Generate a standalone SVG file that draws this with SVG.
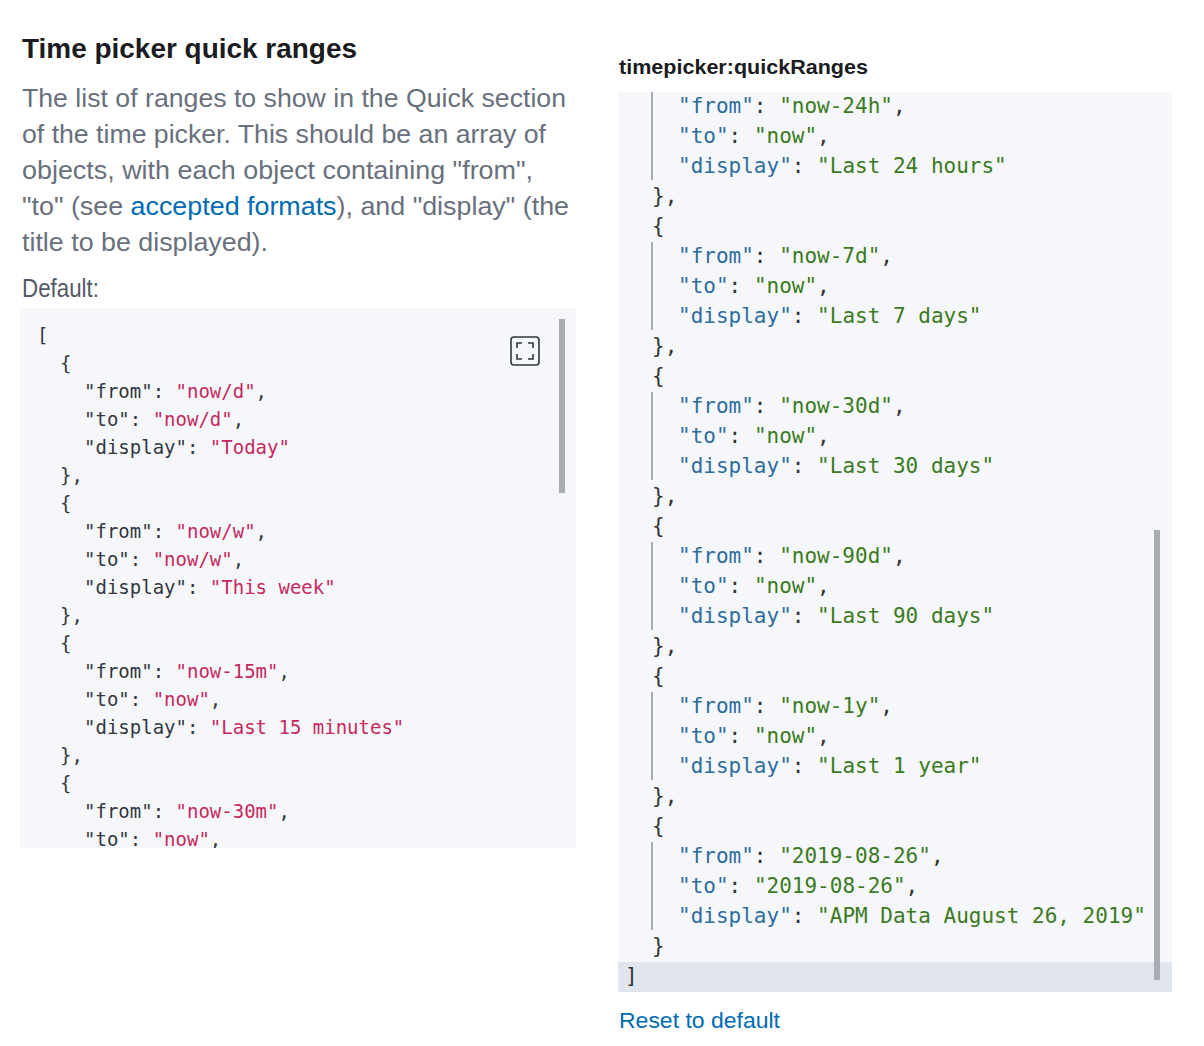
<svg xmlns="http://www.w3.org/2000/svg" width="1204" height="1046" viewBox="0 0 1204 1046">
<style>
.h{font-family:"Liberation Sans",Arial,sans-serif;fill:#1a1c21}
.p{font-family:"Liberation Sans",Arial,sans-serif;font-size:25px;fill:#69707d}
.lc{font-family:"DejaVu Sans Mono","Liberation Mono",monospace;font-size:19px;fill:#343741}
.ls{fill:#c6285e}
.rc{font-family:"DejaVu Sans Mono","Liberation Mono",monospace;font-size:21px;fill:#333}
.rk{fill:#2f6c9e}
.rs{fill:#3b7a1e}
.a{fill:#006bb4}
.g{stroke:#a9acb3;stroke-width:2}
</style>
<defs><clipPath id="lc"><rect x="20" y="308" width="556" height="540"/></clipPath></defs>
<rect width="1204" height="1046" fill="#fff"/>
<g id="left">
<text class="h" x="22" y="58" font-size="27" font-weight="bold" textLength="335" lengthAdjust="spacingAndGlyphs">Time picker quick ranges</text>
<text class="p" x="22" y="107" textLength="544" lengthAdjust="spacingAndGlyphs">The list of ranges to show in the Quick section</text>
<text class="p" x="22" y="143" textLength="524" lengthAdjust="spacingAndGlyphs">of the time picker. This should be an array of</text>
<text class="p" x="22" y="179" textLength="511" lengthAdjust="spacingAndGlyphs">objects, with each object containing "from",</text>
<text class="p" x="22" y="215" textLength="547" lengthAdjust="spacingAndGlyphs">"to" (see <tspan class="a">accepted formats</tspan>), and "display" (the</text>
<text class="p" x="22" y="251" textLength="246" lengthAdjust="spacingAndGlyphs">title to be displayed).</text>
<text class="p" x="22" y="297" font-size="20" style="fill:#535966" textLength="77" lengthAdjust="spacingAndGlyphs">Default:</text>
<rect x="20" y="308" width="556" height="540" fill="#f5f7fa"/>
<g clip-path="url(#lc)">
<text class="lc" x="37" y="342">[</text>
<text class="lc" x="60" y="370">{</text>
<text class="lc" x="84" y="398">"from": <tspan class="ls">"now/d"</tspan>,</text>
<text class="lc" x="84" y="426">"to": <tspan class="ls">"now/d"</tspan>,</text>
<text class="lc" x="84" y="454">"display": <tspan class="ls">"Today"</tspan></text>
<text class="lc" x="60" y="482">},</text>
<text class="lc" x="60" y="510">{</text>
<text class="lc" x="84" y="538">"from": <tspan class="ls">"now/w"</tspan>,</text>
<text class="lc" x="84" y="566">"to": <tspan class="ls">"now/w"</tspan>,</text>
<text class="lc" x="84" y="594">"display": <tspan class="ls">"This week"</tspan></text>
<text class="lc" x="60" y="622">},</text>
<text class="lc" x="60" y="650">{</text>
<text class="lc" x="84" y="678">"from": <tspan class="ls">"now-15m"</tspan>,</text>
<text class="lc" x="84" y="706">"to": <tspan class="ls">"now"</tspan>,</text>
<text class="lc" x="84" y="734">"display": <tspan class="ls">"Last 15 minutes"</tspan></text>
<text class="lc" x="60" y="762">},</text>
<text class="lc" x="60" y="790">{</text>
<text class="lc" x="84" y="818">"from": <tspan class="ls">"now-30m"</tspan>,</text>
<text class="lc" x="84" y="846">"to": <tspan class="ls">"now"</tspan>,</text>
</g>
<rect x="559" y="319" width="6" height="174" fill="#a9acb3"/>
<g id="fullscreen-icon" fill="none" stroke="#343741" stroke-width="1.6">
<rect x="511" y="337" width="28" height="28" rx="3"/>
<path d="M517 348v-5h5M528 343h5v5M533 354v5h-5M522 359h-5v-5"/>
</g>
</g>
<g id="right">
<text class="h" x="619" y="74" font-size="21" font-weight="bold" textLength="249" lengthAdjust="spacingAndGlyphs">timepicker:quickRanges</text>
<rect x="618" y="92" width="554" height="900" fill="#f5f7fa"/>
<rect x="618" y="962" width="554" height="30" fill="#e0e5ee"/>
<g class="g">
<line x1="652" y1="92" x2="652" y2="180"/>
<line x1="652" y1="242" x2="652" y2="330"/>
<line x1="652" y1="392" x2="652" y2="480"/>
<line x1="652" y1="542" x2="652" y2="630"/>
<line x1="652" y1="692" x2="652" y2="780"/>
<line x1="652" y1="842" x2="652" y2="930"/>
</g>
<text class="rc" x="678" y="113"><tspan class="rk">"from"</tspan>: <tspan class="rs">"now-24h"</tspan>,</text>
<text class="rc" x="678" y="143"><tspan class="rk">"to"</tspan>: <tspan class="rs">"now"</tspan>,</text>
<text class="rc" x="678" y="173"><tspan class="rk">"display"</tspan>: <tspan class="rs">"Last 24 hours"</tspan></text>
<text class="rc" x="652" y="203">},</text>
<text class="rc" x="652" y="233">{</text>
<text class="rc" x="678" y="263"><tspan class="rk">"from"</tspan>: <tspan class="rs">"now-7d"</tspan>,</text>
<text class="rc" x="678" y="293"><tspan class="rk">"to"</tspan>: <tspan class="rs">"now"</tspan>,</text>
<text class="rc" x="678" y="323"><tspan class="rk">"display"</tspan>: <tspan class="rs">"Last 7 days"</tspan></text>
<text class="rc" x="652" y="353">},</text>
<text class="rc" x="652" y="383">{</text>
<text class="rc" x="678" y="413"><tspan class="rk">"from"</tspan>: <tspan class="rs">"now-30d"</tspan>,</text>
<text class="rc" x="678" y="443"><tspan class="rk">"to"</tspan>: <tspan class="rs">"now"</tspan>,</text>
<text class="rc" x="678" y="473"><tspan class="rk">"display"</tspan>: <tspan class="rs">"Last 30 days"</tspan></text>
<text class="rc" x="652" y="503">},</text>
<text class="rc" x="652" y="533">{</text>
<text class="rc" x="678" y="563"><tspan class="rk">"from"</tspan>: <tspan class="rs">"now-90d"</tspan>,</text>
<text class="rc" x="678" y="593"><tspan class="rk">"to"</tspan>: <tspan class="rs">"now"</tspan>,</text>
<text class="rc" x="678" y="623"><tspan class="rk">"display"</tspan>: <tspan class="rs">"Last 90 days"</tspan></text>
<text class="rc" x="652" y="653">},</text>
<text class="rc" x="652" y="683">{</text>
<text class="rc" x="678" y="713"><tspan class="rk">"from"</tspan>: <tspan class="rs">"now-1y"</tspan>,</text>
<text class="rc" x="678" y="743"><tspan class="rk">"to"</tspan>: <tspan class="rs">"now"</tspan>,</text>
<text class="rc" x="678" y="773"><tspan class="rk">"display"</tspan>: <tspan class="rs">"Last 1 year"</tspan></text>
<text class="rc" x="652" y="803">},</text>
<text class="rc" x="652" y="833">{</text>
<text class="rc" x="678" y="863"><tspan class="rk">"from"</tspan>: <tspan class="rs">"2019-08-26"</tspan>,</text>
<text class="rc" x="678" y="893"><tspan class="rk">"to"</tspan>: <tspan class="rs">"2019-08-26"</tspan>,</text>
<text class="rc" x="678" y="923"><tspan class="rk">"display"</tspan>: <tspan class="rs">"APM Data August 26, 2019"</tspan></text>
<text class="rc" x="652" y="953">}</text>
<text class="rc" x="625" y="983">]</text>
<rect x="1154" y="530" width="6" height="450" fill="#a9acb3"/>
<text class="h" x="619" y="1028" font-size="22" style="fill:#006bb4" textLength="161" lengthAdjust="spacingAndGlyphs">Reset to default</text>
</g>
</svg>
